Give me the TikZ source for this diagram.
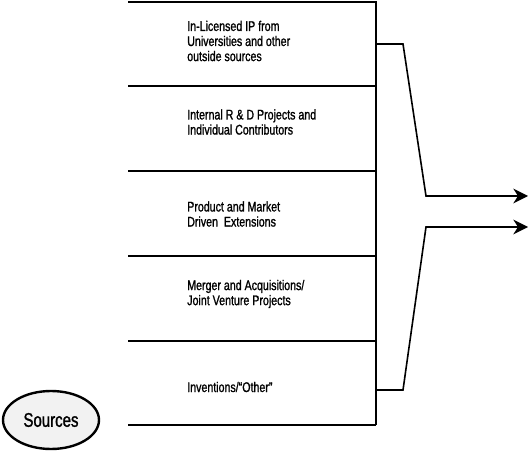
\documentclass[tikz,border=0pt]{standalone}
\usepackage{fontspec}
\setmainfont{Liberation Sans}[FakeStretch=0.76, FakeBold=1.2]
\usepackage{tikz}
\usetikzlibrary{shapes.geometric, positioning, arrows.meta}
\tikzstyle{band}=[anchor=west, align=left, inner sep=0pt, font=\fontsize{10.5}{11.3}\selectfont]
\tikzstyle{source}=[ellipse, draw=black, line width=1.8pt, fill=gray!10, minimum width=72pt, minimum height=43.5pt, inner sep=0pt, font=\fontsize{14.8}{16}\selectfont]
\tikzstyle{rule}=[line width=1.2pt]
\tikzstyle{arrow}=[line width=1.2pt, -{Stealth[length=11pt, width=11pt, inset=3.5pt]}]

\begin{document}
\begin{tikzpicture}[x=0.75pt, y=-0.75pt]
	\def \rulex {128}
	\def \barx {376}
	\useasboundingbox (0,0) rectangle (528,452);

		\foreach \y in {2,86,171,256,341,425}
			\draw[rule] (\rulex,\y) -- (\barx,\y);
		\draw[rule] (\barx,1) -- (\barx,425);

		\node[band] (licensed) at (187,41) {In-Licensed IP from\\Universities and other\\outside sources};
		\node[band] (internal) at (187,122) {Internal R \& D Projects and\\Individual Contributors};
		\node[band] (product) at (187,214) {Product and Market\\Driven\ \ Extensions};
		\node[band] (merger) at (187,294) {Merger and Acquisitions/\\Joint Venture Projects};
		\node[band] (inventions) at (187,387) {Inventions/“Other”};
		\node[source] (sources) at (51,420) {Sources};

		\coordinate (upper tap) at (\barx,44);
		\coordinate (upper out) at (528,196);
		\coordinate (lower tap) at (\barx,390);
		\coordinate (lower out) at (528,227);
		\draw[arrow] (upper tap) -- ++(27,0) -- (426,196) -- (upper out);
		\draw[arrow] (lower tap) -- ++(27,0) -- (426,227) -- (lower out);
\end{tikzpicture}
\end{document}
